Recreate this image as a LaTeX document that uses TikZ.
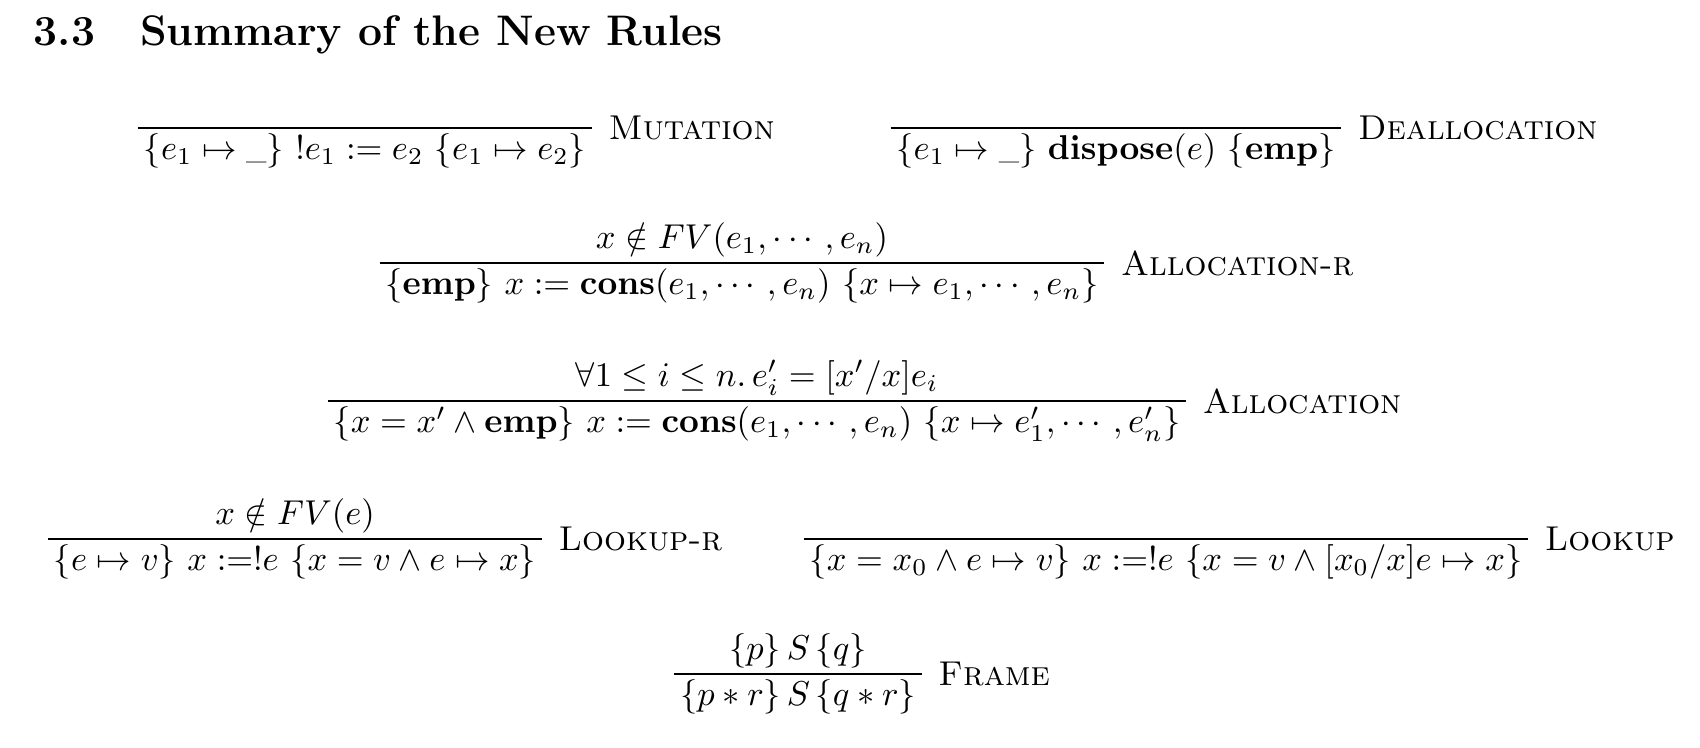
\documentclass[tikz,border=0pt]{standalone}
\usepackage{amsmath,amssymb}
\newcommand{\usc}{\text{\scriptsize\textunderscore}}
\begin{document}
\begin{tikzpicture}[x=0.29pt,y=-0.29pt,
  concl/.style={anchor=north,inner sep=1.5pt},
  prem/.style={anchor=south,inner sep=1.5pt},
  rname/.style={anchor=west,inner sep=0pt,font=\scshape},
  rline/.style={line width=0.4pt}]
\useasboundingbox (0,0) rectangle (1700,748);
\node[anchor=base west,inner sep=0pt,font=\fontsize{12.4}{15}\selectfont\bfseries] (h) at (33,46) {3.3\hspace{1.05em}Summary of the New Rules};
% Mutation
\coordinate (m) at (365,128);
\node[concl] (mc) at (m) {$\{e_1\mapsto \usc\}\ !e_1 \mathrel{:=} e_2\ \{e_1\mapsto e_2\}$};
\draw[rline] (mc.north west) -- (mc.north east);
\node[rname] (mn) at ([xshift=16*0.29pt]mc.north east) {Mutation};
% Deallocation
\coordinate (d) at (1116,128);
\node[concl] (dc) at (d) {$\{e_1\mapsto \usc\}\ \mathbf{dispose}(e)\ \{\mathbf{emp}\}$};
\draw[rline] (dc.north west) -- (dc.north east);
\node[rname] (dn) at ([xshift=16*0.29pt]dc.north east) {Deallocation};
% Allocation-r
\coordinate (ar) at (742,263);
\node[concl] (arc) at (ar) {$\{\mathbf{emp}\}\ x \mathrel{:=} \mathbf{cons}(e_1,\cdots,e_n)\ \{x\mapsto e_1,\cdots,e_n\}$};
\node[prem] (arp) at (ar) {$x\notin FV(e_1,\cdots,e_n)$};
\draw[rline] (arc.north west) -- (arc.north east);
\node[rname] (arn) at ([xshift=16*0.29pt]arc.north east) {Allocation-r};
% Allocation
\coordinate (a) at (757,401);
\node[concl] (ac) at (a) {$\{x=x'\wedge\mathbf{emp}\}\ x \mathrel{:=} \mathbf{cons}(e_1,\cdots,e_n)\ \{x\mapsto e_1',\cdots,e_n'\}$};
\node[prem] (ap) at (a) {$\forall 1\le i\le n.\, e_i'=[x'/x]e_i$};
\draw[rline] (ac.north west) -- (ac.north east);
\node[rname] (an) at ([xshift=16*0.29pt]ac.north east) {Allocation};
% Lookup-r
\coordinate (lr) at (295,539);
\node[concl] (lrc) at (lr) {$\{e\mapsto v\}\ x \mathrel{:=}!e\ \{x=v\wedge e\mapsto x\}$};
\node[prem] (lrp) at (lr) {$x\notin FV(e)$};
\draw[rline] (lrc.north west) -- (lrc.north east);
\node[rname] (lrn) at ([xshift=16*0.29pt]lrc.north east) {Lookup-r};
% Lookup
\coordinate (l) at (1166,539);
\node[concl] (lc) at (l) {$\{x=x_0\wedge e\mapsto v\}\ x \mathrel{:=}!e\ \{x=v\wedge [x_0/x]e\mapsto x\}$};
\draw[rline] (lc.north west) -- (lc.north east);
\node[rname] (ln) at ([xshift=16*0.29pt]lc.north east) {Lookup};
% Frame
\coordinate (f) at (798,674);
\node[concl] (fc) at (f) {$\{p*r\}\,S\,\{q*r\}$};
\node[prem] (fp) at (f) {$\{p\}\,S\,\{q\}$};
\draw[rline] (fc.north west) -- (fc.north east);
\node[rname] (fn) at ([xshift=16*0.29pt]fc.north east) {Frame};
\end{tikzpicture}
\end{document}
